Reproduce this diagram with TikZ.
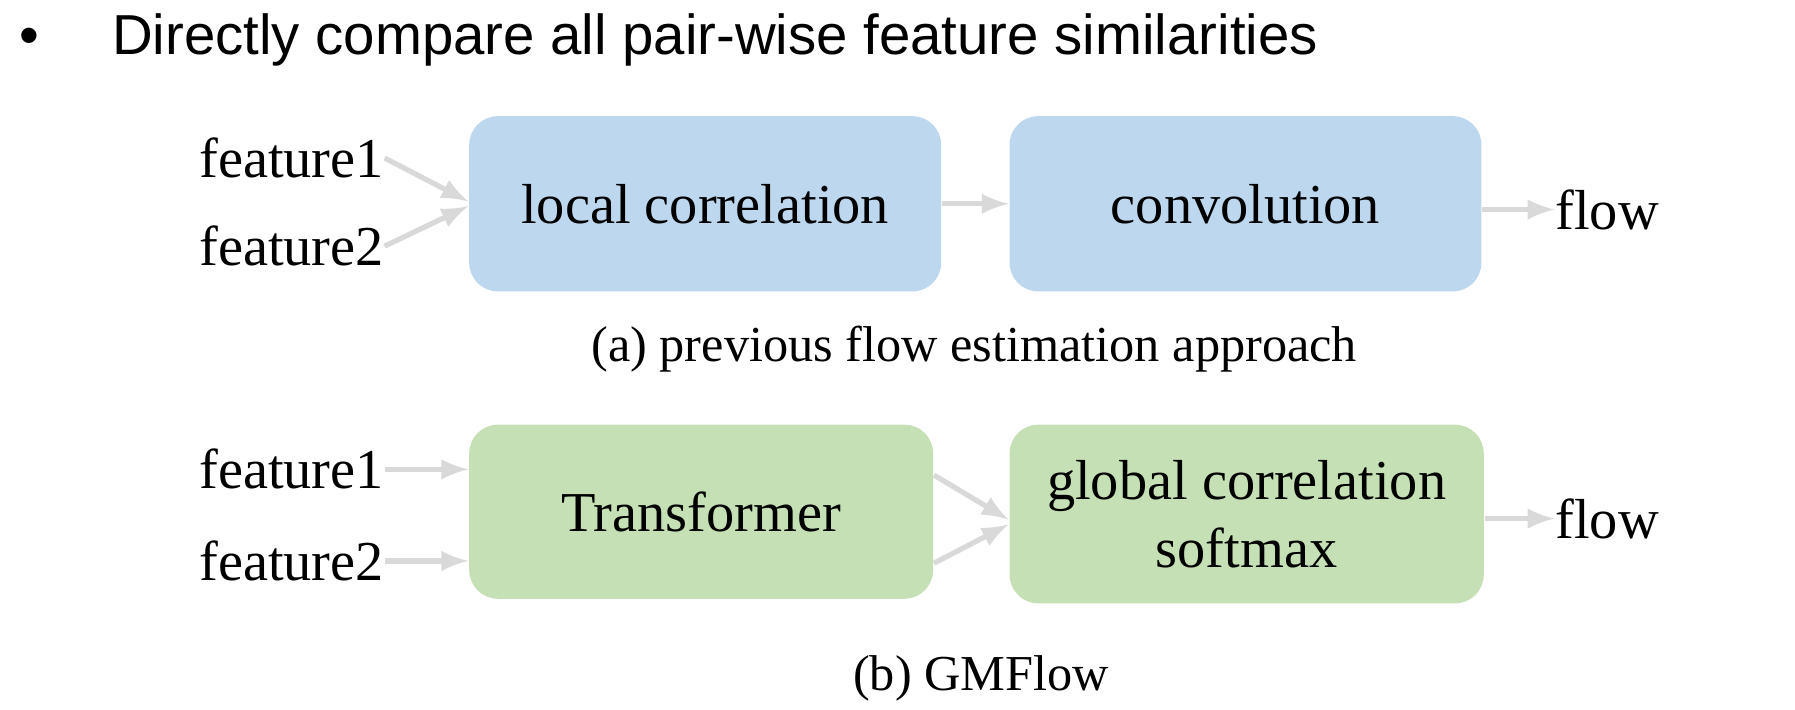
\documentclass[tikz,border=0pt]{standalone}
\usepackage{fontspec}
\setmainfont{Liberation Serif}
\newfontfamily\titlefont{Liberation Sans}
\usetikzlibrary{arrows, calc, positioning}
\definecolor{boxBlue}{HTML}{BDD7EE}
\definecolor{boxGreen}{HTML}{C5E0B4}
\definecolor{arrowGray}{HTML}{D9D9D9}
\tikzset{
    stage/.style={rectangle, rounded corners=0.25cm, inner sep=0pt, minimum height=1.53cm, align=center, font=\fontsize{14}{17}\selectfont},
    stageA/.style={stage, fill=boxBlue},
    stageB/.style={stage, fill=boxGreen},
    lbl/.style={inner sep=0pt, font=\fontsize{14}{17}\selectfont},
    captionText/.style={inner sep=0pt, font=\fontsize{12.5}{15}\selectfont},
    flowEdge/.style={->, >=latex, line width=1.3pt, draw=arrowGray},
}
\begin{document}
\begin{tikzpicture}[x=0.01cm, y=-0.01cm]
        \useasboundingbox (0,0) rectangle (1568,620);

        \node[anchor=west, inner sep=0pt, font=\titlefont\fontsize{14}{17}\selectfont] (title) at (16,35) {\textbullet\hspace{1.3em}Directly compare all pair-wise feature similarities};

        % (a)
        \node[lbl, anchor=east] (fa1) at (336,138) {feature1};
        \node[lbl, anchor=east] (fa2) at (336,215) {feature2};
        \node[stageA, minimum width=4.12cm] (lc) at (616,178) {local correlation};
        \node[stageA, minimum width=4.12cm] (conv) at (1088,178) {convolution};
        \node[lbl, anchor=west] (fla) at (1358,183) {flow};
        \node[captionText] (capa) at (851,305) {(a) previous flow estimation approach};

        \draw[flowEdge] (fa1.east) -- ($(lc.west)+(0,-2)$);
        \draw[flowEdge] (fa2.east) -- ($(lc.west)+(0,2)$);
        \draw[flowEdge] (lc) -- (conv);
        \draw[flowEdge] (conv.east |- fla) -- (fla);

        % (b)
        \node[lbl, anchor=east] (fb1) at (336,410) {feature1};
        \node[lbl, anchor=east] (fb2) at (336,490) {feature2};
        \node[stageB, minimum width=4.05cm, minimum height=1.52cm] (tf) at (612.5,447) {Transformer};
        \node[stageB, minimum width=4.14cm, minimum height=1.56cm] (gc) at (1089,449) {global correlation\\softmax};
        \node[lbl, anchor=west] (flb) at (1358,453) {flow};
        \node[captionText] (capb) at (857,593) {(b) GMFlow};

        \draw[flowEdge] (fb1.east) -- (tf.west |- fb1);
        \draw[flowEdge] (fb2.east) -- (tf.west |- fb2);
        \draw[flowEdge] ($(tf.east)+(0,-32)$) -- ($(gc.west)+(0,5)$);
        \draw[flowEdge] ($(tf.east)+(0,45)$) -- ($(gc.west)+(0,9)$);
        \draw[flowEdge] (gc.east |- flb) -- (flb);
    \end{tikzpicture}
\end{document}
